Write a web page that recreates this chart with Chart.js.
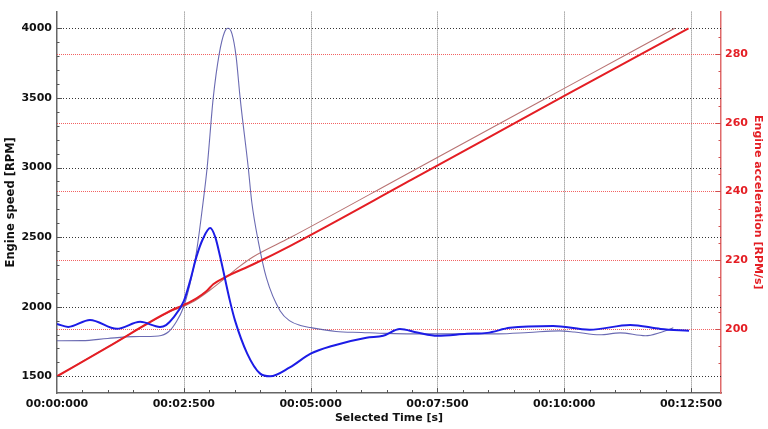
<!DOCTYPE html>
<html>
<head>
<meta charset="utf-8">
<script src="https://cdn.jsdelivr.net/npm/chart.js@4/dist/chart.umd.min.js"></script>
<style>
html,body{margin:0;padding:0;background:#fff;}
#wrap{width:768px;height:429px;position:relative;}
</style>
</head>
<body>
<div id="wrap"><canvas id="c"></canvas></div>
<script>
// ---- data (time in seconds) ----
const speedTimes  = [0, 0.22, 0.65, 1.18, 1.64, 2.03, 2.15, 2.29, 2.5, 2.62, 2.75, 2.88, 3.02, 3.12, 3.21, 3.41, 3.51, 3.75, 4.0, 4.2, 4.59, 5.0, 5.44, 6.1, 6.43, 6.76, 7.1, 7.5, 8.08, 8.48, 8.93, 9.78, 10.5, 11.3, 11.9, 12.46];
const speedValues = [1876, 1855, 1905, 1841, 1891, 1855, 1868, 1919, 2040, 2180, 2360, 2490, 2565, 2500, 2370, 2040, 1900, 1663, 1521, 1500, 1564, 1663, 1720, 1777, 1791, 1840, 1815, 1791, 1805, 1812, 1848, 1862, 1834, 1869, 1840, 1827];

const refSpeedTimes  = [0, 0.5, 1.0, 1.5, 2.0, 2.2, 2.35, 2.49, 2.62, 2.75, 2.88, 2.96, 3.08, 3.2, 3.3, 3.37, 3.45, 3.53, 3.61, 3.77, 3.84, 3.97, 4.13, 4.4, 4.59, 4.8, 5.0, 5.5, 6.0, 6.5, 7.0, 7.5, 8.0, 8.7, 9.3, 9.9, 10.2, 10.7, 11.1, 11.6, 11.9, 12.15];
const refSpeedValues = [1755, 1756, 1772, 1785, 1790, 1820, 1890, 1992, 2160, 2395, 2750, 3000, 3500, 3820, 3970, 4000, 3960, 3800, 3500, 3000, 2750, 2466, 2205, 1969, 1898, 1865, 1850, 1822, 1815, 1808, 1805, 1805, 1805, 1805, 1815, 1826, 1818, 1798, 1812, 1791, 1815, 1848];

const accelTimes  = [0, 1.0, 2.23, 2.49, 2.75, 2.95, 3.08, 3.31, 3.87, 4.59, 7.0, 10.0, 12.45];
const accelValues = [186.2, 194.7, 205.2, 206.9, 208.9, 211.0, 213.0, 215.0, 218.8, 224.1, 243.5, 267.8, 287.5];

const refAccelTimes  = [0, 1.0, 2.2, 2.5, 2.75, 3.0, 3.3, 3.6, 3.87, 4.59, 7.0, 10.0, 12.18];
const refAccelValues = [186.2, 194.7, 204.8, 206.6, 208.5, 211.1, 214.6, 218.2, 221.0, 226.5, 245.9, 270.0, 287.5];

const xMajorTicks = [0, 2.5, 5, 7.5, 10, 12.5];
const speedMajorTicks = [1500, 2000, 2500, 3000, 3500, 4000];
const accelMajorTicks = [200, 220, 240, 260, 280];

// ---- helpers ----
const pts = (xs, ys) => xs.map((x, i) => ({x: x, y: ys[i]}));
const near = (v, list) => list.some(m => Math.abs(m - v) < 1e-6);
const isMult = (v, s) => Math.abs(v / s - Math.round(v / s)) < 1e-6;
const fmtTime = v => {
  const s = Math.floor(v + 1e-9);
  const ms = Math.round((v - s) * 1000);
  return '00:' + String(s).padStart(2, '0') + ':' + String(ms).padStart(3, '0');
};

const FONT = 'DejaVu Sans';
const RED = 'rgb(228,30,36)';

// dotted grid lines drawn through the library scales
const dottedGrid = {
  id: 'dottedGrid',
  beforeDatasetsDraw(chart) {
    const {ctx, chartArea: a, scales} = chart;
    ctx.save();
    ctx.lineWidth = 1;
    // vertical (time) grid
    ctx.strokeStyle = 'rgba(110,110,110,0.9)';
    ctx.setLineDash([1, 1]);
    xMajorTicks.forEach(v => {
      if (v <= scales.x.min) return;
      const x = Math.round(scales.x.getPixelForValue(v)) + 0.5;
      ctx.beginPath(); ctx.moveTo(x, a.top); ctx.lineTo(x, a.bottom); ctx.stroke();
    });
    // right axis (red) grid
    ctx.strokeStyle = 'rgba(240,70,70,0.85)';
    ctx.setLineDash([1, 1]);
    accelMajorTicks.forEach(v => {
      const y = Math.round(scales.y2.getPixelForValue(v)) + 0.5;
      ctx.beginPath(); ctx.moveTo(a.left, y); ctx.lineTo(a.right, y); ctx.stroke();
    });
    // left axis grid
    ctx.strokeStyle = 'rgba(30,30,30,0.9)';
    ctx.setLineDash([1, 2]);
    speedMajorTicks.forEach(v => {
      const y = Math.round(scales.y.getPixelForValue(v)) + 0.5;
      ctx.beginPath(); ctx.moveTo(a.left, y); ctx.lineTo(a.right, y); ctx.stroke();
    });
    ctx.restore();
  },
  afterDraw(chart) {
    const {ctx, chartArea: a, scales} = chart;
    ctx.save();
    ctx.lineWidth = 1;
    ctx.strokeStyle = '#555';
    scales.y.ticks.forEach(t => {
      if (!isMult(t.value, 100)) return;
      const y = Math.round(scales.y.getPixelForValue(t.value)) + 0.5;
      const len = near(t.value, speedMajorTicks) ? 5 : 2.5;
      ctx.beginPath(); ctx.moveTo(a.left, y); ctx.lineTo(a.left + len, y); ctx.stroke();
    });
    scales.x.ticks.forEach(t => {
      if (!isMult(t.value, 0.5) || t.value === 0) return;
      const x = Math.round(scales.x.getPixelForValue(t.value)) + 0.5;
      const len = near(t.value, xMajorTicks) ? 5 : 3;
      ctx.beginPath(); ctx.moveTo(x, a.bottom); ctx.lineTo(x, a.bottom - len); ctx.stroke();
    });
    ctx.strokeStyle = '#d05050';
    scales.y2.ticks.forEach(t => {
      if (!isMult(t.value, 5)) return;
      const y = Math.round(scales.y2.getPixelForValue(t.value)) + 0.5;
      const len = near(t.value, accelMajorTicks) ? 5 : 2.5;
      ctx.beginPath(); ctx.moveTo(a.right, y); ctx.lineTo(a.right - len, y); ctx.stroke();
    });
    ctx.restore();
  }
};

new Chart(document.getElementById('c'), {
  type: 'line',
  data: {
    datasets: [
      {label: 'Engine speed', data: pts(speedTimes, speedValues), yAxisID: 'y',
       borderColor: 'rgb(28,28,230)', borderWidth: 2, pointRadius: 0, cubicInterpolationMode: 'monotone'},
      {label: 'Engine acceleration', data: pts(accelTimes, accelValues), yAxisID: 'y2',
       borderColor: RED, borderWidth: 2, pointRadius: 0, cubicInterpolationMode: 'monotone'},
      {label: 'Engine speed (ref)', data: pts(refSpeedTimes, refSpeedValues), yAxisID: 'y',
       borderColor: 'rgba(80,80,165,0.85)', borderWidth: 1.1, pointRadius: 0, cubicInterpolationMode: 'monotone'},
      {label: 'Engine acceleration (ref)', data: pts(refAccelTimes, refAccelValues), yAxisID: 'y2',
       borderColor: 'rgb(185,115,115)', borderWidth: 1.1, pointRadius: 0, cubicInterpolationMode: 'monotone'}
    ]
  },
  options: {
    responsive: true,
    maintainAspectRatio: false,
    animation: false,
    layout: {padding: {top: 7, left: 0, right: 0, bottom: 0}},
    plugins: {legend: {display: false}, tooltip: {enabled: false}},
    scales: {
      x: {
        type: 'linear', min: 0, max: 13.09,
        afterFit: s => { s.height = 36; },
        ticks: {
          stepSize: 0.5, autoSkip: false, maxRotation: 0, padding: 5,
          color: '#111', font: {family: FONT, size: 11, weight: 'bold'},
          callback: v => near(v, xMajorTicks) ? fmtTime(v) : ''
        },
        grid: {display: true, drawOnChartArea: false, drawTicks: false},
        border: {display: true, color: '#666', width: 1.5},
        title: {display: true, text: 'Selected Time [s]', color: '#111', font: {family: FONT, size: 11, weight: 'bold'}, padding: {top: 2, bottom: 4}}
      },
      y: {
        type: 'linear', position: 'left', min: 1380, max: 4120,
        afterFit: s => { s.width = 57; },
        ticks: {
          stepSize: 100, autoSkip: false, padding: 5,
          color: '#111', font: {family: FONT, size: 11, weight: 'bold'},
          callback: v => near(v, speedMajorTicks) ? String(v) : ''
        },
        grid: {display: true, drawOnChartArea: false, drawTicks: false},
        border: {display: true, color: '#666', width: 1.5},
        title: {display: true, text: 'Engine speed [RPM]', color: '#111', font: {family: FONT, size: 11.5, weight: 'bold'}, padding: {top: 4, bottom: 4}}
      },
      y2: {
        type: 'linear', position: 'right', min: 181.33, max: 292.35,
        afterFit: s => { s.width = 47; },
        ticks: {
          stepSize: 5, autoSkip: false, padding: 4,
          color: RED, font: {family: FONT, size: 11, weight: 'bold'},
          callback: v => near(v, accelMajorTicks) ? String(v) : ''
        },
        grid: {display: true, drawOnChartArea: false, drawTicks: false},
        border: {display: true, color: '#e06a6a', width: 1.5},
        title: {display: true, text: 'Engine acceleration [RPM/s]', color: RED, font: {family: FONT, size: 11, weight: 'bold'}, padding: {top: 4, bottom: 4}}
      }
    }
  },
  plugins: [dottedGrid]
});
</script>
</body>
</html>
